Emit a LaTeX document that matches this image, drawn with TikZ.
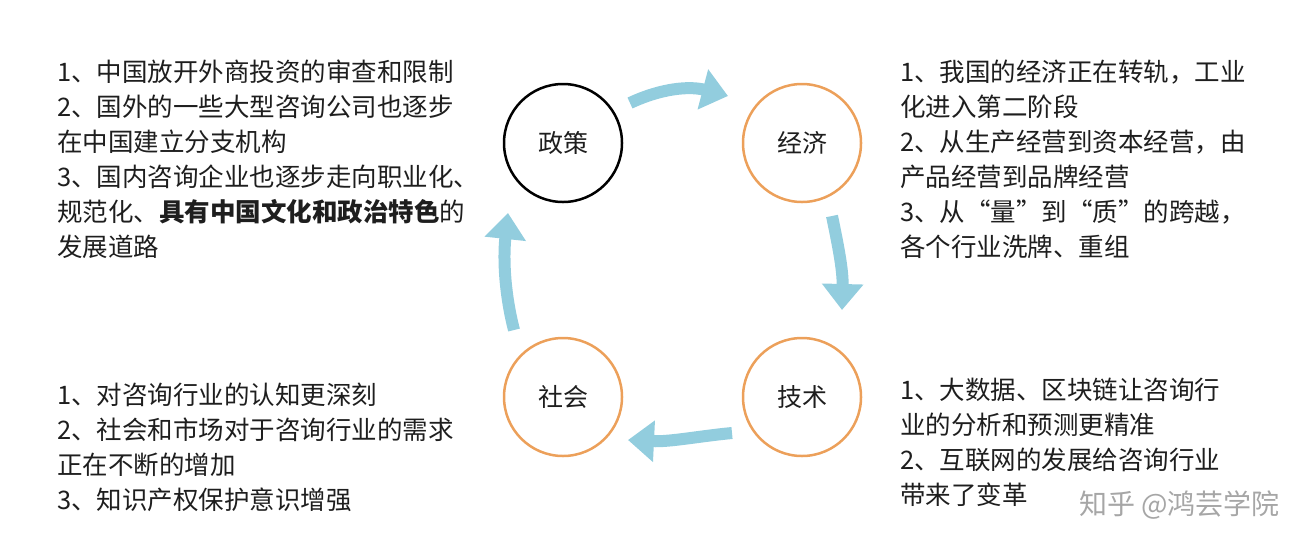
\documentclass[tikz,border=0pt]{standalone}
\usepackage{fontspec}
\setmainfont{Noto Sans CJK SC}
\usetikzlibrary{arrows.meta}
\definecolor{arr}{RGB}{146,205,222}
\definecolor{org}{RGB}{236,160,90}
\definecolor{txt}{RGB}{30,30,30}
\begin{document}
\begin{tikzpicture}[x=1pt,y=-1pt,
  circ/.style={circle,draw,line width=2.5pt,minimum size=118pt,font=\fontsize{25}{25}\selectfont,text=txt},
  ln/.style={anchor=west,inner sep=0,font=\fontsize{25.5}{25.5}\selectfont,text=txt},
  bar/.style={arr,line width=12pt,-{Triangle[length=26pt,width=40pt]}}]
\useasboundingbox (0,0) rectangle (1311,558);
\node[circ,draw=black] (zc) at (563,143) {政策};
\node[circ,draw=org] (jj) at (802,143) {经济};
\node[circ,draw=org] (js) at (802,397) {技术};
\node[circ,draw=org] (sh) at (563,397) {社会};
\coordinate (a1) at (630,103); \coordinate (b1) at (728,96);
\coordinate (a2) at (832,216); \coordinate (b2) at (842,310);
\coordinate (a3) at (732,433); \coordinate (b3) at (628,440);
\coordinate (a4) at (514,330); \coordinate (b4) at (508,213);
\draw[bar] (a1) .. controls (662,88) and (690,86) .. (b1);
\draw[bar] (a2) .. controls (838,245) and (843,270) .. (b2);
\draw[bar] (a3) .. controls (700,436) and (670,442) .. (b3);
\draw[bar] (a4) .. controls (505,295) and (503,260) .. (b4);
\node[ln] (l1) at (57,72) {1、中国放开外商投资的审查和限制};
\node[ln] (l2) at (57,107) {2、国外的一些大型咨询公司也逐步};
\node[ln] (l3) at (57,142) {在中国建立分支机构};
\node[ln] (l4) at (57,177) {3、国内咨询企业也逐步走向职业化、};
\node[ln] (l5) at (57,212) {规范化、\textbf{具有中国文化和政治特色}的};
\node[ln] (l6) at (57,247) {发展道路};
\node[ln] (r1) at (900,72) {1、我国的经济正在转轨，工业};
\node[ln] (r2) at (900,107) {化进入第二阶段};
\node[ln] (r3) at (900,142) {2、从生产经营到资本经营，由};
\node[ln] (r4) at (900,177) {产品经营到品牌经营};
\node[ln] (r5) at (900,212) {3、从“量”到“质”的跨越，};
\node[ln] (r6) at (900,247) {各个行业洗牌、重组};
\node[ln] (s1) at (57,395) {1、对咨询行业的认知更深刻};
\node[ln] (s2) at (57,430) {2、社会和市场对于咨询行业的需求};
\node[ln] (s3) at (57,465) {正在不断的增加};
\node[ln] (s4) at (57,500) {3、知识产权保护意识增强};
\node[ln] (t1) at (900,390) {1、大数据、区块链让咨询行};
\node[ln] (t2) at (900,425) {业的分析和预测更精准};
\node[ln] (t3) at (900,460) {2、互联网的发展给咨询行业};
\node[ln] (t4) at (900,495) {带来了变革};
\node[anchor=east,inner sep=0,font=\fontsize{28}{28}\selectfont,text=gray!70] (wm) at (1280,505) {知乎 @鸿芸学院};
\end{tikzpicture}
\end{document}
